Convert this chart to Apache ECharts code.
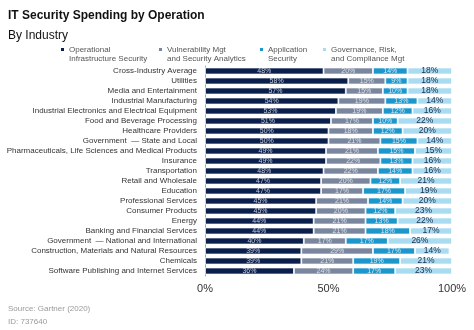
<!DOCTYPE html>
<html><head><meta charset="utf-8">
<script src="https://cdn.jsdelivr.net/npm/echarts@6/dist/echarts.min.js"></script>
<style>html,body{margin:0;padding:0;background:#fff}#c{width:474px;height:330px}</style>
</head><body><div id="c"></div>
<script>
var categories = ["Cross-Industry Average","Utilities","Media and Entertainment","Industrial Manufacturing","Industrial Electronics and Electrical Equipment","Food and Beverage Processing","Healthcare Providers","Government  \u2014 State and Local","Pharmaceuticals, Life Sciences and Medical Products","Insurance","Transportation","Retail and Wholesale","Education","Professional Services","Consumer Products","Energy","Banking and Financial Services","Government  \u2014 National and International","Construction, Materials and Natural Resources","Chemicals","Software Publishing and Internet Services"];
var operational = [48,58,57,54,53,51,50,50,49,49,48,47,47,45,45,44,44,40,39,39,36];
var vulnerability = [20,15,15,19,19,17,18,21,21,22,22,20,17,21,20,21,21,17,29,21,24];
var application = [14,9,10,13,12,10,12,15,15,13,14,12,17,14,12,13,18,17,17,19,17];
var governance = [18,18,18,14,16,22,20,14,15,16,16,21,19,20,23,22,17,26,14,21,23];
var seriesNames = ["Operational\nInfrastructure Security","Vulnerability Mgt\nand Security Analytics","Application\nSecurity","Governance, Risk,\nand Compliance Mgt"];
var tickLabels = ["0%","50%","100%"];

var FONT = 'Liberation Sans, Arial, sans-serif';
var colors = ["#0b1f4d","#7a869e","#1b97cc","#a9dcf0"];
var labelColors = ["#c9cfdc","#dde2ea","#d6ecf7","#1c2b4d"];
var labelSizes = [7,7,7,8.5];
var data = [operational, vulnerability, application, governance];
var chart = echarts.init(document.getElementById('c'), null, {renderer:'canvas'});
var legendLefts = [56,154,255,318];
var series = data.map(function(arr, i){
  return {
    name: seriesNames[i], type:'bar', stack:'total', barWidth:7,
    data: arr.slice().reverse(),
    itemStyle:{color:colors[i], borderColor:'#fff', borderWidth:0.8},
    label:{show:true, position:'inside', formatter:'{c}%', color:labelColors[i], fontSize:labelSizes[i], fontFamily:FONT}
  };
});
chart.setOption({
  animation:false,
  color: colors,
  title:[
    {text:'IT Security Spending by Operation', left:3, top:5, textStyle:{fontSize:12, fontWeight:'bold', color:'#111', fontFamily:FONT}},
    {text:'By Industry', left:3, top:25, textStyle:{fontSize:12, fontWeight:'normal', color:'#111', fontFamily:FONT}},
    {text:'Source: Gartner (2020)', left:3, top:300, textStyle:{fontSize:8, fontWeight:'normal', color:'#9a9a9a', fontFamily:FONT}},
    {text:'ID: 737640', left:3, top:313, textStyle:{fontSize:8, fontWeight:'normal', color:'#9a9a9a', fontFamily:FONT}}
  ],
  legend: seriesNames.map(function(n,i){
    return {data:[n], left:legendLefts[i], top:40, itemWidth:3, itemHeight:12, itemGap:0,
      icon:'path://M0,0h3v3h-3zM0,12h0.001v0.001h-0.001z',
      itemStyle:{borderWidth:0},
      textStyle:{fontSize:8, color:'#555', lineHeight:9, fontFamily:FONT}};
  }),
  grid:{left:205, right:22, top:66, bottom:54, containLabel:false},
  xAxis:{type:'value', min:0, max:100, interval:50,
    axisLabel:{formatter:function(v){return tickLabels[v/50];}, fontSize:11, color:'#333', margin:7, fontFamily:FONT},
    splitLine:{show:false}, axisLine:{show:false}, axisTick:{show:false}},
  yAxis:{type:'category', data:categories.slice().reverse(),
    axisLabel:{interval:0, fontSize:8, color:'#333', margin:8, fontFamily:FONT},
    axisLine:{show:true, lineStyle:{color:'#aaa', width:1}}, axisTick:{show:false}},
  series: series
});
</script></body></html>
